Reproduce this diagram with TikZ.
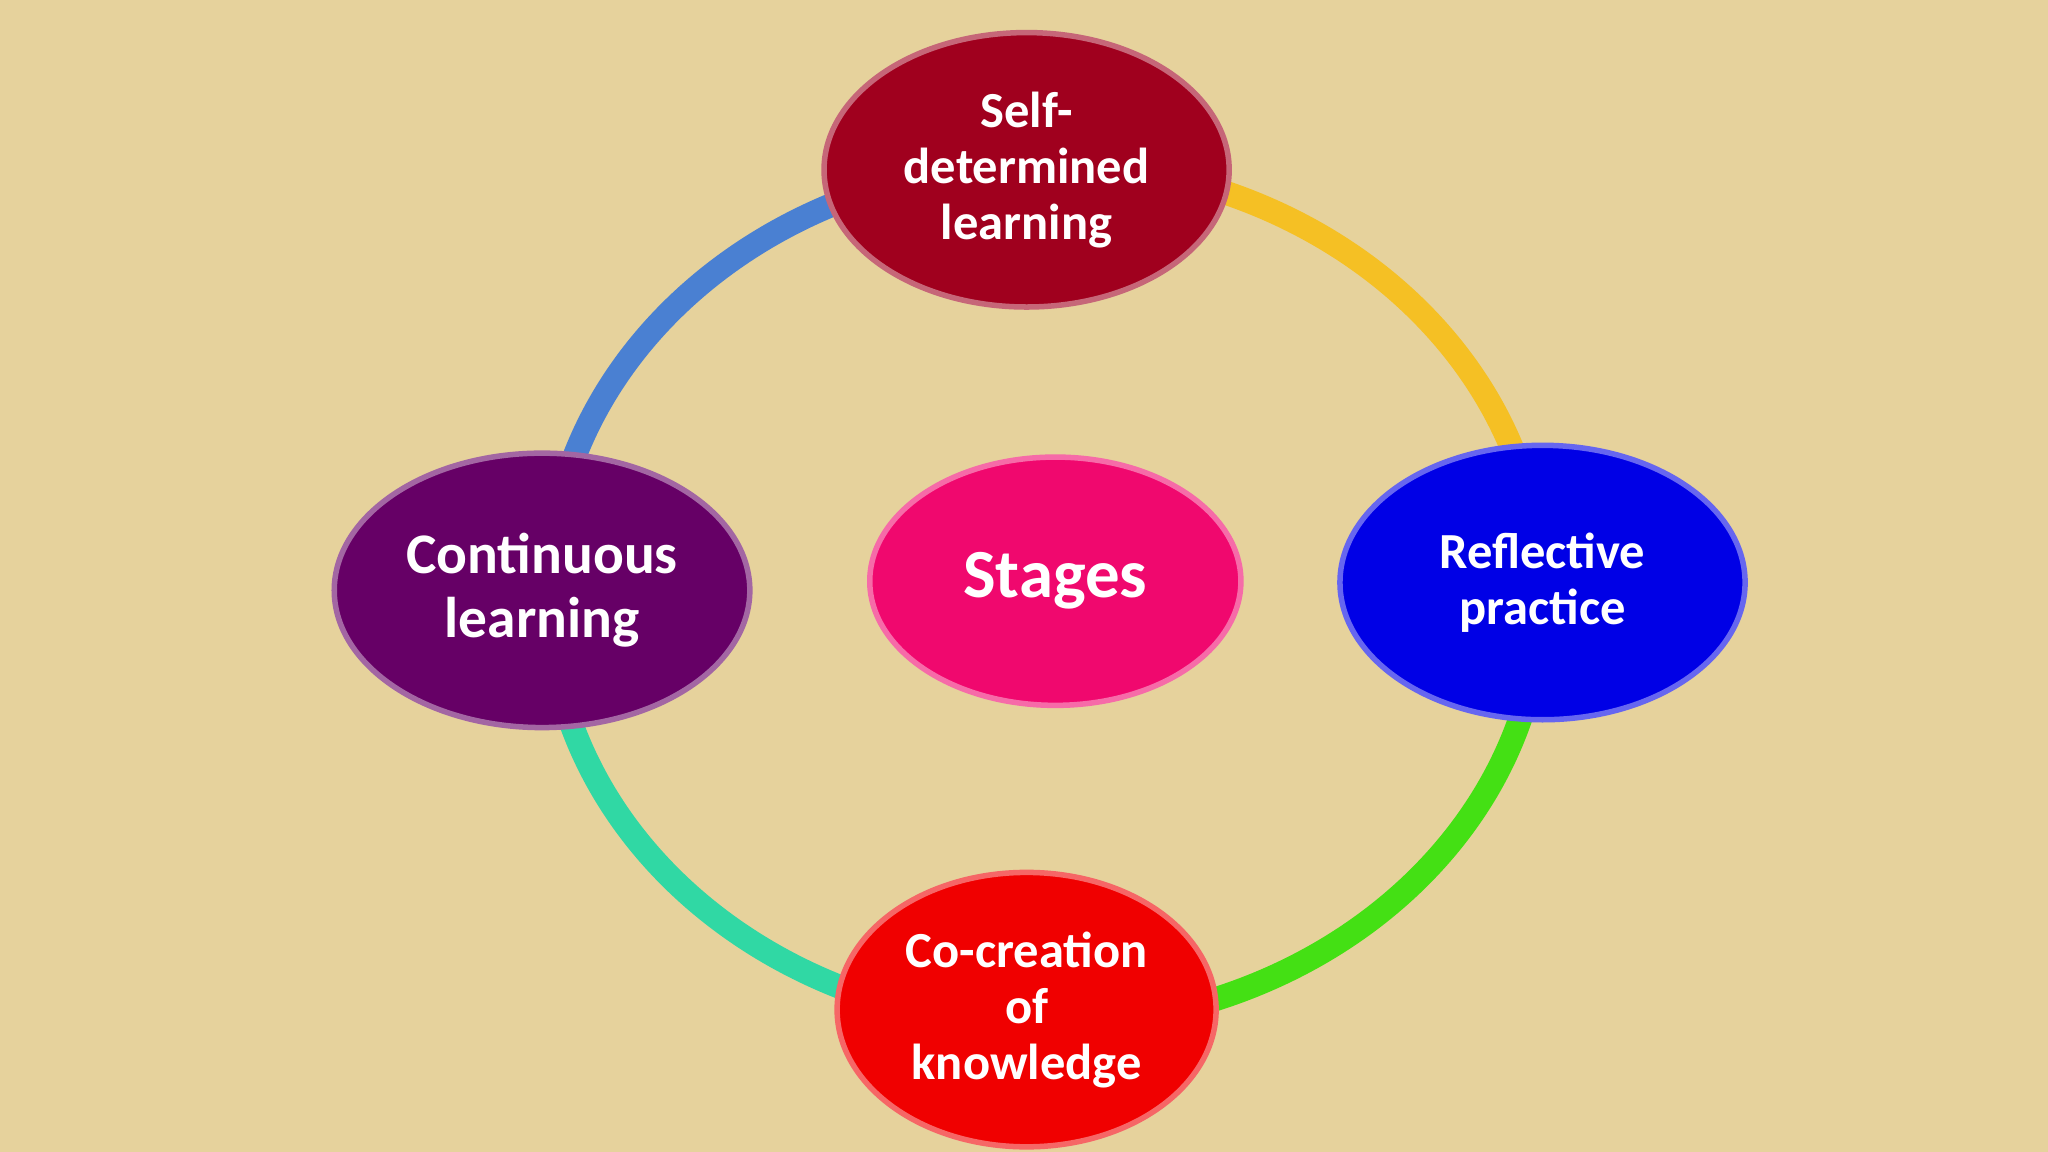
\documentclass[tikz,border=0pt]{standalone}
\usepackage{fontspec}
\setmainfont{Carlito}
\usetikzlibrary{shapes.geometric}
\definecolor{bg}{HTML}{E6D29C}
\definecolor{cA}{HTML}{A0001E}
\definecolor{cB}{HTML}{660066}
\definecolor{cC}{HTML}{F0086E}
\definecolor{cD}{HTML}{0000E6}
\definecolor{cE}{HTML}{F00000}
\definecolor{rTL}{HTML}{4A80D2}
\definecolor{rTR}{HTML}{F5C024}
\definecolor{rBR}{HTML}{44E014}
\definecolor{rBL}{HTML}{30D8A4}
\tikzset{
 blob/.style={ellipse, draw=#1!60!white, line width=1.2pt, fill=#1, text=white, align=center, inner sep=0pt},
 ring/.style={line width=5.2pt},
 lab/.style={font=\bfseries\fontsize{11}{12.2}\selectfont}
}
\begin{document}
\begin{tikzpicture}[x=0.01cm,y=-0.01cm]
\fill[bg] (0,0) rectangle (1568,882);
\useasboundingbox (0,0) rectangle (1568,882);
\draw[ring,rTL] (800,455) ++(180:380 and 330) arc[start angle=180,end angle=270,x radius=380,y radius=330];
\draw[ring,rTR] (800,455) ++(270:380 and 330) arc[start angle=270,end angle=360,x radius=380,y radius=330];
\draw[ring,rBR] (800,455) ++(0:380 and 330) arc[start angle=0,end angle=90,x radius=380,y radius=330];
\draw[ring,rBL] (800,455) ++(90:380 and 330) arc[start angle=90,end angle=180,x radius=380,y radius=330];
\node[blob=cA, lab, minimum width=3.1cm, minimum height=2.1cm] (top) at (786,130) {Self-\\determined\\learning};
\node[blob=cB, minimum width=3.18cm, minimum height=2.1cm, font=\bfseries\fontsize{12.5}{14}\selectfont] (left) at (415,452) {Continuous\\learning};
\node[blob=cC, minimum width=2.84cm, minimum height=1.9cm, font=\bfseries\fontsize{15}{17}\selectfont] (mid) at (808,445) {Stages};
\node[blob=cD, lab, minimum width=3.1cm, minimum height=2.1cm] (right) at (1181,446) {Reflective\\practice};
\node[blob=cE, lab, minimum width=2.9cm, minimum height=2.1cm] (bot) at (786,773) {Co-creation\\of\\knowledge};
\end{tikzpicture}
\end{document}
